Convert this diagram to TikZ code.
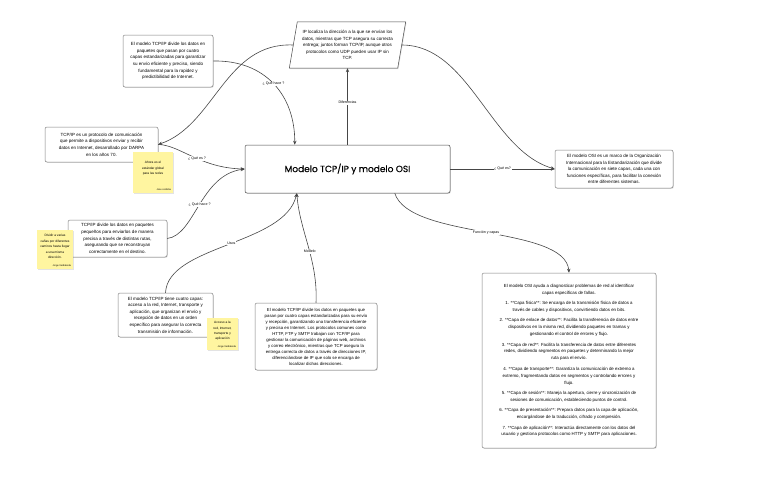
\documentclass[tikz,border=0pt]{standalone}
\usepackage{fontspec}
\setmainfont{Liberation Sans}
\newfontfamily\titlefont{Poppins}[FakeBold=0.5]
\usetikzlibrary{calc,arrows.meta,shadows}
\definecolor{mmline}{RGB}{70,70,70}
\definecolor{mmborder}{RGB}{125,125,125}
\definecolor{mmsticky}{RGB}{255,245,160}
\newcommand{\cardtext}{\fontsize{4.5}{6.6}\selectfont}
\newcommand{\smalltext}{\fontsize{4.3}{6}\selectfont}
\newcommand{\notetext}{\fontsize{3.2}{5.4}\selectfont}
\newcommand{\bytext}{\fontsize{2.4}{3}\selectfont}

\begin{document}
\begin{tikzpicture}[x=1pt,y=-1pt,
  card/.style={draw=mmborder, line width=0.5pt, rounded corners=2pt, fill=white,
    align=center, inner sep=2pt, font=\cardtext,
    drop shadow={opacity=0.22,shadow xshift=0.8pt,shadow yshift=-0.9pt}},
  sticky/.style={fill=mmsticky, inner sep=0pt,
    drop shadow={opacity=0.22,shadow xshift=0.8pt,shadow yshift=-0.9pt}},
  conn/.style={draw=mmline, line width=0.6pt, -{Stealth[length=4pt,width=3.4pt]}},
  lbl/.style={font=\fontsize{3.6}{4}\selectfont, fill=white, inner sep=0.6pt}]
\useasboundingbox (0,0) rectangle (768,480);

% central topic
\node[card, draw=mmline, minimum width=205, minimum height=48,
  font=\titlefont\fontsize{9}{10}\selectfont] (model) at (347.5,169) {Modelo TCP/IP y modelo OSI};

% IP / TCP (parallelogram)
\node[align=center, font=\cardtext, minimum width=108, minimum height=46, inner sep=0pt] (ip) at (347.5,45)
  {IP localiza la dirección a la que se envían los\\datos, mientras que TCP asegura su correcta\\entrega; juntos forman TCP/IP, aunque otros\\protocolos como UDP pueden usar IP sin\\TCP.};
\draw[draw=mmline, line width=0.5pt, fill=white, drop shadow={opacity=0.22,shadow xshift=0.8pt,shadow yshift=-0.9pt}]
  ($(ip.north west)+(4,0)$) -- ($(ip.north east)+(4,0)$) -- ($(ip.south east)+(-4,0)$) -- ($(ip.south west)+(-4,0)$) -- cycle;
\node[align=center, font=\cardtext] (iptext) at (ip.center)
  {IP localiza la dirección a la que se envían los\\datos, mientras que TCP asegura su correcta\\entrega; juntos forman TCP/IP, aunque otros\\protocolos como UDP pueden usar IP sin\\TCP.};

% cards round the topic
\node[card, minimum width=90, minimum height=52] (packets) at (168,61)
  {El modelo TCP/IP divide los datos en\\paquetes que pasan por cuatro\\capas estandarizadas para garantizar\\su envío eficiente y preciso, siendo\\fundamental para la rapidez y\\predictibilidad de Internet.};
\node[card, minimum width=113, minimum height=35] (tcpdef) at (101.5,144.5)
  {TCP/IP es un protocolo de comunicación\\que permite a dispositivos enviar y recibir\\datos en Internet, desarrollado por DARPA\\en los años 70.};
\node[card, minimum width=118, minimum height=38] (osidef) at (614,169)
  {El modelo OSI es un marco de la Organización\\Internacional para la Estandarización que divide\\la comunicación en siete capas, cada una con\\funciones específicas, para facilitar la conexión\\entre diferentes sistemas.};
\node[card, minimum width=99, minimum height=37] (routes) at (117.5,238.5)
  {TCP/IP divide los datos en paquetes\\pequeños para enviarlos de manera\\precisa a través de distintas rutas,\\asegurando que se reconstruyan\\correctamente en el destino.};
\node[card, minimum width=95, minimum height=44] (layers) at (165.5,315)
  {El modelo TCP/IP tiene cuatro capas:\\acceso a la red, Internet, transporte y\\aplicación, que organizan el envío y\\recepción de datos en un orden\\específico para asegurar la correcta\\transmisión de información.};
\node[card, minimum width=122, minimum height=67, font=\smalltext] (uses) at (316,336.5)
  {El modelo TCP/IP divide los datos en paquetes que\\pasan por cuatro capas estandarizadas para su envío\\y recepción, garantizando una transferencia eficiente\\y precisa en Internet. Los protocolos comunes como\\HTTP, FTP y SMTP trabajan con TCP/IP para\\gestionar la comunicación de páginas web, archivos\\y correo electrónico, mientras que TCP asegura la\\entrega correcta de datos a través de direcciones IP,\\diferenciándose de IP que solo se encarga de\\localizar dichas direcciones.};
\node[card, minimum width=174, minimum height=175, font=\fontsize{4.4}{6.9}\selectfont] (osilayers) at (569,360.5)
  {El modelo OSI ayuda a diagnosticar problemas de red al identificar\\capas específicas de fallas.\\[3.5pt]
   1. **Capa física**: Se encarga de la transmisión física de datos a\\través de cables y dispositivos, convirtiendo datos en bits.\\[3.5pt]
   2. **Capa de enlace de datos**: Facilita la transferencia de datos entre\\dispositivos en la misma red, dividiendo paquetes en tramas y\\gestionando el control de errores y flujo.\\[3.5pt]
   3. **Capa de red**: Facilita la transferencia de datos entre diferentes\\redes, dividiendo segmentos en paquetes y determinando la mejor\\ruta para el envío.\\[3.5pt]
   4. **Capa de transporte**: Garantiza la comunicación de extremo a\\extremo, fragmentando datos en segmentos y controlando errores y\\flujo.\\[3.5pt]
   5. **Capa de sesión**: Maneja la apertura, cierre y sincronización de\\sesiones de comunicación, estableciendo puntos de control.\\[3.5pt]
   6. **Capa de presentación**: Prepara datos para la capa de aplicación,\\encargándose de la traducción, cifrado y compresión.\\[3.5pt]
   7. **Capa de aplicación**: Interactúa directamente con los datos del\\usuario y gestiona protocolos como HTTP y SMTP para aplicaciones.};

% sticky notes
\node[sticky, minimum width=40, minimum height=41] (sticky1) at (153,172.5) {};
\node[align=center, font=\notetext] (note1) at ($(sticky1.center)+(0,-4)$) {Ahora es el\\estándar global\\para las redes};
\node[anchor=south east, font=\bytext, inner sep=2pt] (by1) at (sticky1.south east) {Jose cordoba};
\node[sticky, minimum width=36, minimum height=39] (sticky2) at (55,249.5) {};
\node[align=center, font=\notetext] (note2) at ($(sticky2.center)+(0,-3)$) {Dividir a varias\\cañas por diferentes\\caminos hasta llegar\\a una misma\\dirección.};
\node[anchor=south east, font=\bytext, inner sep=2pt] (by2) at (sticky2.south east) {Jorge Verdaboda};
\node[sticky, minimum width=31, minimum height=32] (sticky3) at (222.5,334) {};
\node[align=center, font=\notetext] (note3) at ($(sticky3.center)+(0,-3)$) {Acceso a la\\red, Internet,\\transporte y\\aplicación};
\node[anchor=south east, font=\bytext, inner sep=2pt] (by3) at (sticky3.south east) {Jorge Verdaboda};

% attach points on the topic
\coordinate (mtop) at ($(model.north west)+(50,0)$);
\coordinate (mbot) at ($(model.south west)+(52,0)$);
\coordinate (mbotr) at ($(model.south west)+(150,0)$);

% connectors
\draw[conn] (packets.east) .. controls (265,60) and (295,95) .. (mtop)
  node[lbl, pos=0.5] (lhace) {¿ Qué hace ?};
\draw[conn] (model.north) -- (ip.south)
  node[lbl, pos=0.55] (ldif) {Diferencias};
\draw[conn] (ip.west) .. controls (225,42) and (215,125) .. (tcpdef.east);
\draw[conn] (ip.east) .. controls (470,45) and (490,150) .. (osidef.west);
\draw[conn] (tcpdef.east) .. controls (180,145) and (200,168) .. (model.west)
  node[lbl, pos=0.55] (les) {¿ Qué es ?};
\draw[conn] (routes.east) .. controls (195,235) and (200,175) .. (model.west)
  node[lbl, pos=0.5] (lhace2) {¿ Qué hace ?};
\draw[conn] (layers.north) .. controls (168,245) and (285,245) .. (mbot)
  node[lbl, pos=0.52] (lusos) {Usos};
\draw[conn] (uses.north) .. controls (318,260) and (300,232) .. (mbot)
  node[lbl, pos=0.45] (lmodelo) {Modelo};
\draw[conn] (model.east) -- (osidef.west)
  node[lbl, pos=0.5] (lesosi) {¿ Qué es?};
\draw[conn] (mbotr) .. controls (410,240) and (565,225) .. (osilayers.north)
  node[lbl, pos=0.5] (lcapas) {Función y capas};
\end{tikzpicture}
\end{document}
